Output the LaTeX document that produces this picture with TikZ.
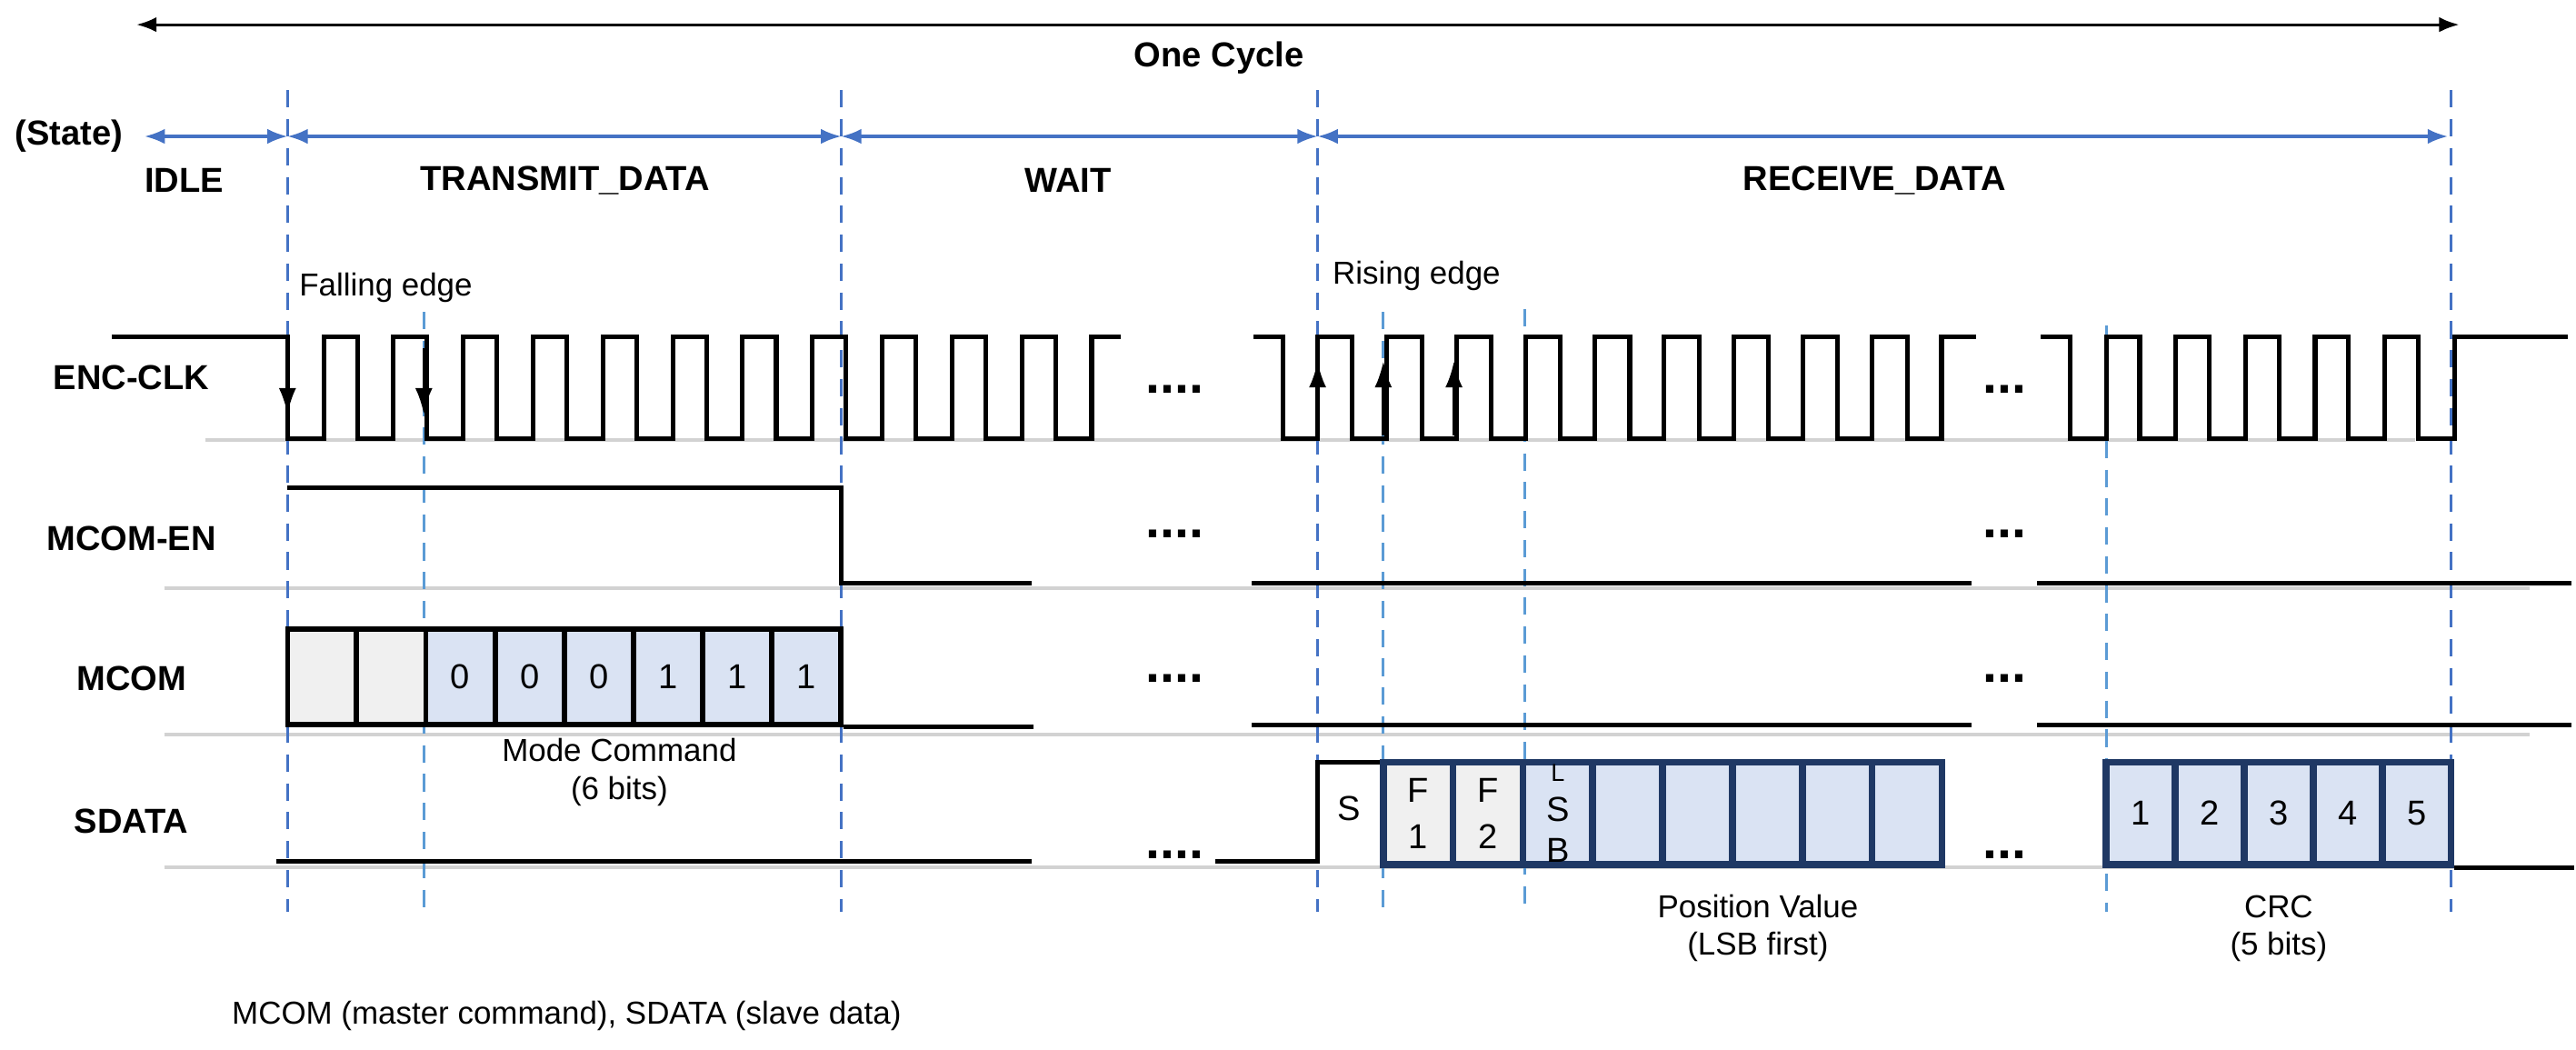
\documentclass[tikz,border=0pt]{standalone}
\usepackage{fontspec}
\setmainfont{Liberation Sans}
\usetikzlibrary{arrows.meta}
\definecolor{dkblue}{HTML}{4472C4}
\definecolor{ltblue}{HTML}{5B9BD5}
\definecolor{navy}{HTML}{1F3864}
\definecolor{cellblue}{HTML}{DAE3F3}
\definecolor{cellgray}{HTML}{F0F0F0}
\tikzset{sig/.style={line width=1.6pt,line join=miter},
         base/.style={gray!35,line width=1.2pt},
         phase/.style={dkblue,dashed,line width=0.9pt,dash pattern=on 6pt off 4pt},
         sub/.style={ltblue,dashed,line width=0.9pt,dash pattern=on 6pt off 4pt},
         span/.style={{Latex[length=7pt]}-{Latex[length=7pt]},line width=1pt},
         lbl/.style={font=\bfseries\fontsize{12}{14}\selectfont},
         txt/.style={font=\fontsize{11}{13}\selectfont,align=center},
         cell/.style={draw,line width=1.8pt,minimum height=58*0.02cm,inner sep=0pt,font=\fontsize{12}{14}\selectfont},
         edge/.style={-{Latex[length=9pt,width=6pt]},line width=1pt},
         dots/.style={font=\bfseries\fontsize{18}{18}\selectfont}
}
\begin{document}
\begin{tikzpicture}[x=0.02cm,y=-0.02cm]
  \useasboundingbox (0,0) rectangle (1568,639);
  % top spans
  \node[lbl] (cycle) at (742,35) {One Cycle};
  \coordinate (c0) at (83,15); \coordinate (c1) at (1497,15);
  \draw[span] (c0) -- (c1);
  \node[lbl] (state) at (42,83) {(State)};
  \coordinate (s0) at (88,83); \coordinate (s1) at (175,83); \coordinate (s2) at (512,83);
  \coordinate (s3) at (802,83); \coordinate (s4) at (1490,83);
  \draw[span,dkblue] (s0) -- (s1);
  \draw[span,dkblue] (s1) -- (s2);
  \draw[span,dkblue] (s2) -- (s3);
  \draw[span,dkblue] (s3) -- (s4);
  \node[lbl] (idle) at (112,110) {IDLE};
  \node[lbl] (tx) at (344,110) {TRANSMIT\_DATA};
  \node[lbl] (wait) at (650,110) {WAIT};
  \node[lbl] (rx) at (1141,110) {RECEIVE\_DATA};
  % row labels and base lines
  \node[lbl] (clk) at (80,230) {ENC-CLK};
  \node[lbl] (en) at (80,328) {MCOM-EN};
  \node[lbl] (mcom) at (80,413) {MCOM};
  \node[lbl] (sdata) at (80,500) {SDATA};
  \foreach \y/\a/\b in {268/125/1470,358/100/1540,447/100/1540,528/100/1540}
    \draw[base] (\a,\y) -- (\b,\y);
  % dashed phase lines
  \foreach \x in {175,512,802,1492} \draw[phase] (\x,55) -- (\x,555);
  \foreach \x/\t in {258/190,842/190,928/188,1282/198} \draw[sub] (\x,\t) -- (\x,555);
  % ENC-CLK
  \draw[sig] (68,205) -- (175,205)
    \foreach \k in {0,...,11}{ -- ({175+42.5*\k},205) -- ({175+42.5*\k},267) -- ({197+42.5*\k},267) -- ({197+42.5*\k},205)} -- (682,205);
  \draw[sig] (763,205)
    \foreach \k in {0,...,9}{ -- ({781+42.2*\k},205) -- ({781+42.2*\k},267) -- ({802+42.2*\k},267) -- ({802+42.2*\k},205)} -- (1203,205);
  \draw[sig] (1242,205)
    \foreach \k in {0,...,5}{ -- ({1260+42.4*\k},205) -- ({1260+42.4*\k},267) -- ({1282+42.4*\k},267) -- ({1282+42.4*\k},205)} -- (1563,205);
  \node[txt,anchor=west] (fall) at (176,175) {Falling edge};
  \node[txt,anchor=west] (rise) at (805,168) {Rising edge};
  \foreach \x [count=\i] in {175,258} {
    \coordinate (f\i a) at (\x,212); \coordinate (f\i b) at (\x,252);
    \draw[edge] (f\i a) -- (f\i b);
  }
  \foreach \x [count=\i] in {802,842,885} {
    \coordinate (r\i a) at (\x,265); \coordinate (r\i b) at (\x,220);
    \draw[edge] (r\i a) -- (r\i b);
  }
  % MCOM-EN
  \draw[sig] (175,297) -- (512,297) -- (512,355) -- (628,355);
  \draw[sig] (762,355) -- (1200,355);
  \draw[sig] (1240,355) -- (1565,355);
  % MCOM
  \foreach \v [count=\i] in {{},{},0,0,0,1,1,1} {
    \ifnum\i<3 \def\fc{cellgray}\else\def\fc{cellblue}\fi
    \node[cell,fill=\fc,minimum width=42*0.02cm] (m\i) at ({175+42.1*(\i-0.5)},412) {\v};
  }
  \draw[sig] (m8.south east) -- ++(116,0);
  \draw[sig] (762,441) -- (1200,441);
  \draw[sig] (1240,441) -- (1565,441);
  \node[txt] (modecmd) at (377,470) {Mode Command\\(6 bits)};
  % SDATA
  \draw[sig] (168,524) -- (628,524);
  \draw[sig] (740,524) -- (802,524) -- (802,464) -- (842,464);
  \node[font=\fontsize{12}{14}\selectfont] (sbit) at (821,492) {S};
  \foreach \v [count=\i] in {{F\\[2pt]1},{F\\[2pt]2},{\fontsize{8.5}{9.5}\selectfont L\\S\\B},{},{},{},{},{}} {
    \ifnum\i<3 \def\fc{cellgray}\else\def\fc{cellblue}\fi
    \node[cell,line width=2.4pt,draw=navy,fill=\fc,align=center,minimum width=42.5*0.02cm,minimum height=62*0.02cm] (p\i) at ({842+42.5*(\i-0.5)},495) {\v};
  }
  \foreach \v [count=\i] in {1,...,5}
    \node[cell,line width=2.4pt,draw=navy,fill=cellblue,minimum width=42*0.02cm,minimum height=62*0.02cm] (k\i) at ({1282+42*(\i-0.5)},495) {\v};
  \draw[sig] (k5.south east) -- ++(73,0);
  \node[txt] (posval) at (1070,565) {Position Value\\(LSB first)};
  \node[txt] (crc) at (1387,565) {CRC\\(5 bits)};
  % gaps
  \foreach \y [count=\i] in {237,325,413,520} \node[dots] (g\i) at (715,\y) {....};
  \foreach \y [count=\i] in {237,325,413,520} \node[dots] (h\i) at (1220,\y) {...};
  \node[txt,anchor=west] (note) at (135,618) {MCOM (master command), SDATA (slave data)};
\end{tikzpicture}
\end{document}
